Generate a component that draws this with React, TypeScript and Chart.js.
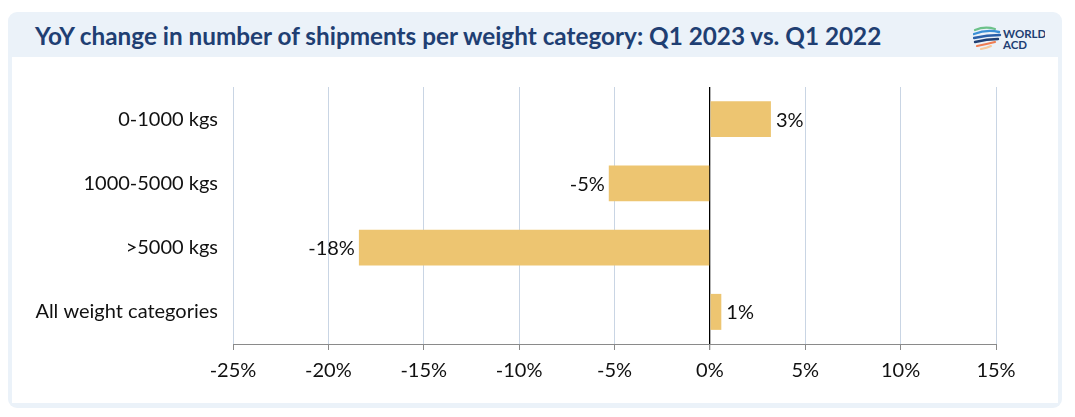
import React, { useEffect, useRef } from "react";
import { Chart, registerables } from "chart.js";

Chart.register(...registerables);

const categories = ["0-1000 kgs", "1000-5000 kgs", ">5000 kgs", "All weight categories"];
const yoyChange = [3.2, -5.3, -18.4, 0.6];
const xTicks = [-25, -20, -15, -10, -5, 0, 5, 10, 15];

const TITLE = "YoY change in number of shipments per weight category: Q1 2023 vs. Q1 2022";
const FONT = "Lato, 'Open Sans', sans-serif";
const BAR_COLOR = "#edc571";
const NAVY = "#1f3f73";

const pct = (v: number) => `${Math.round(v)}%`;

// Draws the value next to the end of each bar
const valueLabels = {
  id: "valueLabels",
  afterDatasetsDraw(chart: any) {
    const { ctx } = chart;
    const meta = chart.getDatasetMeta(0);
    const data = chart.data.datasets[0].data as number[];
    ctx.save();
    ctx.font = `20px ${FONT}`;
    ctx.fillStyle = "#111";
    ctx.textBaseline = "middle";
    meta.data.forEach((bar: any, i: number) => {
      const v = data[i];
      if (v >= 0) {
        ctx.textAlign = "left";
        ctx.fillText(pct(v), bar.x + 5, bar.y + 1);
      } else {
        ctx.textAlign = "right";
        ctx.fillText(pct(v), bar.x - 4, bar.y + 1);
      }
    });
    ctx.restore();
  },
};

function Logo() {
  return (
    <svg width="72" height="30" viewBox="0 0 72 30" style={{ position: "absolute", left: 965, top: 12 }}>
      <path d="M2 6 Q12 2 22 5" stroke="#6cc28a" strokeWidth="2.2" fill="none" strokeLinecap="round" />
      <path d="M1 10 Q14 5 26 8" stroke="#3a8fd6" strokeWidth="2.4" fill="none" strokeLinecap="round" />
      <path d="M1 14 Q14 11 27 11" stroke="#2a5fa8" strokeWidth="2.4" fill="none" strokeLinecap="round" />
      <path d="M2 18 Q14 15 25 15" stroke="#1f3f73" strokeWidth="2.4" fill="none" strokeLinecap="round" />
      <path d="M4 22 Q14 20 22 18" stroke="#ef7d52" strokeWidth="2.2" fill="none" strokeLinecap="round" />
      <path d="M8 25 Q14 24 18 22" stroke="#f7c99a" strokeWidth="2" fill="none" strokeLinecap="round" />
      <text x="30" y="14" fontFamily="Lato, sans-serif" fontWeight="700" fontSize="11.5" fill={NAVY}>WORLD</text>
      <text x="30" y="25" fontFamily="Lato, sans-serif" fontWeight="700" fontSize="11.5" fill={NAVY}>ACD</text>
    </svg>
  );
}

export default function App() {
  const canvasRef = useRef<HTMLCanvasElement | null>(null);

  useEffect(() => {
    if (!canvasRef.current) return;
    const chart = new Chart(canvasRef.current, {
      type: "bar",
      data: {
        labels: categories,
        datasets: [
          {
            data: yoyChange,
            backgroundColor: BAR_COLOR,
            borderWidth: 0,
            barPercentage: 0.56,
            categoryPercentage: 1,
          },
        ],
      },
      options: {
        indexAxis: "y",
        animation: false,
        responsive: false,
        maintainAspectRatio: false,
        layout: { padding: { top: 30, right: 62, left: 0, bottom: 0 } },
        plugins: { legend: { display: false }, tooltip: { enabled: false } },
        scales: {
          x: {
            min: -25,
            max: 15,
            afterBuildTicks: (scale: any) => {
              scale.ticks = xTicks.map((v) => ({ value: v }));
            },
            afterFit: (scale: any) => {
              scale.height = 59;
            },
            grid: {
              color: (c: any) => (c.tick && c.tick.value === 0 ? "#000000" : "#c9d5e4"),
              lineWidth: (c: any) => (c.tick && c.tick.value === 0 ? 1.3 : 1),
              drawTicks: true,
              tickLength: 6,
              tickColor: "#8a8a8a",
            },
            border: { display: true, color: "#8a8a8a", width: 1 },
            ticks: {
              color: "#111",
              font: { family: FONT, size: 20 },
              padding: 9,
              callback: (v: any) => `${v}%`,
            },
          },
          y: {
            afterFit: (scale: any) => {
              scale.width = 221;
            },
            grid: { display: false, drawTicks: false },
            border: { display: false },
            ticks: {
              color: "#111",
              font: { family: FONT, size: 20 },
              padding: 15,
            },
          },
        },
      },
      plugins: [valueLabels],
    });
    return () => chart.destroy();
  }, []);

  return (
    <div style={{ position: "relative", width: 1059, height: 401 }}>
      <div
        style={{
          position: "absolute",
          left: 0,
          top: 4,
          width: 1054,
          height: 396,
          background: "#ebf2f9",
          borderRadius: 9,
        }}
      >
        <div
          style={{
            position: "absolute",
            left: 27,
            top: 9,
            fontFamily: FONT,
            fontWeight: 700,
            fontSize: 24.3,
            color: NAVY,
            whiteSpace: "nowrap",
          }}
        >
          {TITLE}
        </div>
        <Logo />
        <div
          style={{
            position: "absolute",
            left: 4,
            top: 45,
            width: 1046,
            height: 346,
            background: "#ffffff",
          }}
        >
          <canvas ref={canvasRef} width={1046} height={346} style={{ display: "block" }} />
        </div>
      </div>
    </div>
  );
}
